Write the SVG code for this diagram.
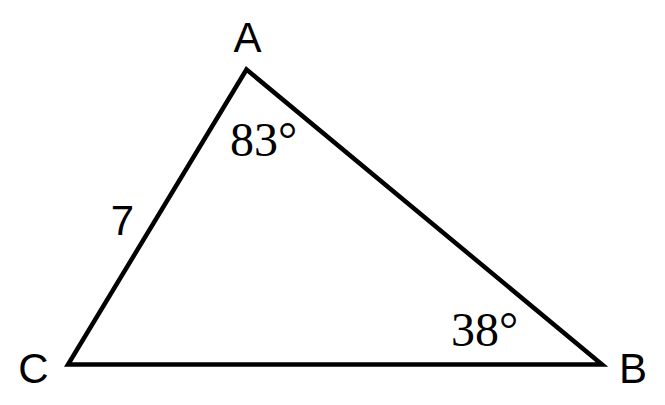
<svg xmlns="http://www.w3.org/2000/svg" width="665" height="405" viewBox="0 0 665 405">
<style>
.lbl{font-family:"Liberation Sans",Arial,sans-serif;font-size:42px;fill:#000;text-anchor:middle}
.ang{font-family:"Liberation Serif","Times New Roman",serif;font-size:48px;fill:#000}
.edge{fill:none;stroke:#000;stroke-width:4.5;stroke-linejoin:miter;stroke-linecap:butt}
</style>
<rect width="665" height="405" fill="#fff"/>
<g id="connectors">
<polygon class="edge" points="246.5,69.5 602,364.5 68,364.5"/>
</g>
<g id="node-A"><text class="lbl" x="247.5" y="52">A</text></g>
<g id="node-B"><text class="lbl" x="633" y="383">B</text></g>
<g id="node-C"><text class="lbl" x="33.5" y="383">C</text></g>
<g id="label-side"><text class="lbl" x="122.5" y="235" font-size="44">7</text></g>
<g id="angle-A"><text class="ang" x="230" y="156">83°</text></g>
<g id="angle-B"><text class="ang" x="451" y="346">38°</text></g>
</svg>
